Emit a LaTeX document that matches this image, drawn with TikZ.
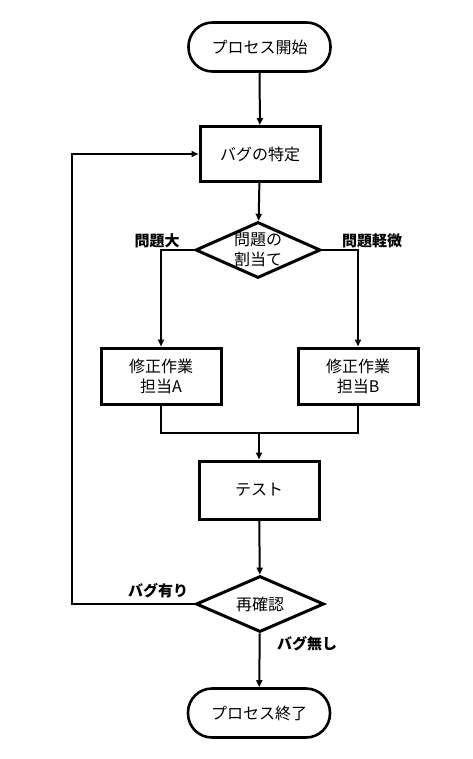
\documentclass[tikz,border=0pt]{standalone}
\usepackage{fontspec}
\setmainfont{Noto Sans CJK JP}
\usetikzlibrary{shapes.geometric,arrows.meta}
\begin{document}
\begin{tikzpicture}[x=1pt,y=-1pt,
  box/.style={draw,line width=3pt,minimum width=120pt,minimum height=56pt,inner sep=0pt,align=center,font=\fontsize{16}{20}\selectfont},
  term/.style={draw,line width=2.6pt,rounded corners=24pt,minimum width=142pt,minimum height=49pt,inner sep=0pt,font=\fontsize{16}{20}\selectfont},
  dec/.style={draw,diamond,aspect=2.2,line width=3pt,inner sep=0pt,align=center,font=\fontsize{16}{20}\selectfont},
  conn/.style={line width=2pt,-{Triangle[length=7pt,width=6pt]}},
  link/.style={line width=2pt},
  lab/.style={font=\bfseries\fontsize{15}{18}\selectfont}]
\useasboundingbox[fill=white] (0,0) rectangle (472,759);
\node[term] (start) at (259.5,47) {プロセス開始};
\node[box,minimum height=55pt] (bug) at (260,154) {バグの特定};
\node[dec,minimum width=125pt,minimum height=56pt] (d1) at (258,250) {問題の\\割当て};
\node[box] (A) at (161,376) {修正作業\\担当A};
\node[box] (B) at (358,376) {修正作業\\担当B};
\node[box,minimum height=58pt] (test) at (259,490) {テスト};
\node[dec,minimum width=128pt,minimum height=56pt] (d2) at (260,604) {再確認};
\node[term] (end) at (259,713) {プロセス終了};
\coordinate (m) at (259,433);
\coordinate (lp) at (72,604);
\draw[conn] (start) -- (bug);
\draw[conn] (bug) -- (d1);
\draw[conn] (d1.west) -| (A.north);
\draw[conn] (d1.east) -| (B.north);
\draw[link] (A.south) |- (m) -| (B.south);
\draw[conn] (m) -- (test);
\draw[conn] (test) -- (d2);
\draw[conn] (d2) -- (end);
\draw[conn] (d2.west) -- (lp) |- (bug.west);
\node[lab] (l1) at (157,241) {問題大};
\node[lab] (l2) at (372,241) {問題軽微};
\node[lab] (l3) at (158,591) {バグ有り};
\node[lab] (l4) at (307,644) {バグ無し};
\end{tikzpicture}
\end{document}
